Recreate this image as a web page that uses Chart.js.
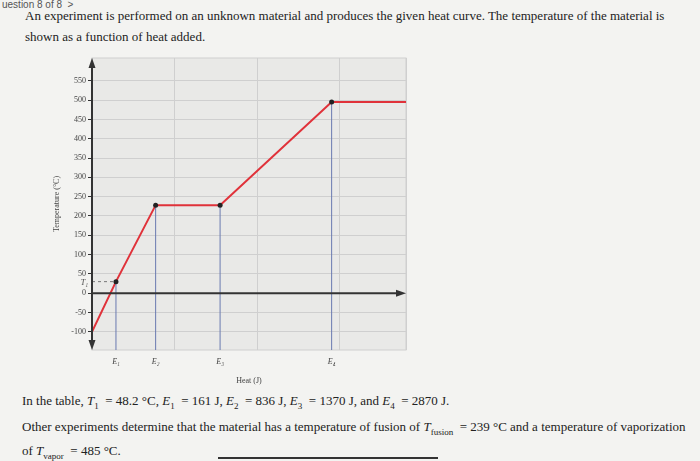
<!DOCTYPE html><html><head><meta charset="utf-8">
<script src="https://cdn.jsdelivr.net/npm/chart.js@4"></script>
<style>
body{margin:0;background:#f3f3f1;width:700px;height:461px;overflow:hidden;font-family:"Liberation Serif",serif;color:#222;position:relative}
.t{position:absolute;font-size:13px;white-space:nowrap}
sub{line-height:0;font-size:9px}
#wrap{position:absolute;left:52px;top:45px;width:368px;height:345px}
</style></head><body>
<div class="t" style="left:2px;top:-1px;font-family:'Liberation Sans';font-size:10px;color:#555">uestion 8 of 8 &nbsp;&gt;</div>
<div class="t" style="left:25px;top:8px">An experiment is performed on an unknown material and produces the given heat curve. The temperature of the material is</div>
<div class="t" style="left:25px;top:29px">shown as a function of heat added.</div>
<div class="t" style="left:22px;top:393px">In the table, <i>T</i><sub>1</sub> &nbsp;= 48.2 °C, <i>E</i><sub>1</sub> &nbsp;= 161 J, <i>E</i><sub>2</sub> &nbsp;= 836 J, <i>E</i><sub>3</sub> &nbsp;= 1370 J, and <i>E</i><sub>4</sub> &nbsp;= 2870 J.</div>
<div class="t" style="left:22px;top:419px">Other experiments determine that the material has a temperature of fusion of <i>T</i><sub>fusion</sub> &nbsp;= 239 °C and a temperature of vaporization</div>
<div class="t" style="left:22px;top:443px">of <i>T</i><sub>vapor</sub> &nbsp;= 485 °C.</div>
<div style="position:absolute;left:218px;top:457px;width:220px;height:2px;background:#333"></div>
<div id="wrap"><canvas id="c"></canvas></div>
<script>
const heatX=[0,0.29,0.77,1.55,2.9,3.8];
const tempY=[-100,30,228,228,495,495];
const markIdx=[1,2,3,4];
const eLabels=['E₁','E₂','E₃','E₄'];
const yTicks=[550,500,450,400,350,300,250,200,150,100,50,0,-50,-100];
const deco={id:'deco',afterDatasetsDraw(ch){
 const c=ch.ctx,x=ch.scales.x,y=ch.scales.y,a=ch.chartArea;
 c.save();
 markIdx.forEach((i,k)=>{const px=x.getPixelForValue(heatX[i]),py=y.getPixelForValue(tempY[i]);
  c.strokeStyle='#6a7ab0';c.lineWidth=1;c.beginPath();c.moveTo(px,py);c.lineTo(px,a.bottom);c.stroke();
  c.fillStyle='#444';c.font='italic 8px "Liberation Serif"';c.textAlign='center';c.fillText(eLabels[k],px,a.bottom+14);});
 const x1=x.getPixelForValue(heatX[1]),y1=y.getPixelForValue(tempY[1]);
 c.setLineDash([3,3]);c.strokeStyle='#777';c.beginPath();c.moveTo(a.left,y1);c.lineTo(x1,y1);c.stroke();c.setLineDash([]);
 c.fillStyle='#444';c.font='italic 8px "Liberation Serif"';c.textAlign='right';c.fillText('T₁',a.left-4,y1+3);
 const y0=y.getPixelForValue(0),x0=x.getPixelForValue(0);
 c.strokeStyle='#333';c.fillStyle='#333';c.lineWidth=2;
 c.beginPath();c.moveTo(a.left,y0);c.lineTo(a.right-6,y0);c.stroke();
 c.beginPath();c.moveTo(a.right,y0);c.lineTo(a.right-10,y0-3.5);c.lineTo(a.right-10,y0+3.5);c.fill();
 c.beginPath();c.moveTo(x0,a.bottom-4);c.lineTo(x0,a.top+6);c.stroke();
 c.beginPath();c.moveTo(x0,a.top);c.lineTo(x0-3.5,a.top+10);c.lineTo(x0+3.5,a.top+10);c.fill();
 c.beginPath();c.moveTo(x0,a.bottom);c.lineTo(x0-3.5,a.bottom-10);c.lineTo(x0+3.5,a.bottom-10);c.fill();
 markIdx.forEach(i=>{c.beginPath();c.arc(x.getPixelForValue(heatX[i]),y.getPixelForValue(tempY[i]),2.5,0,7);c.fillStyle='#222';c.fill();});
 c.restore();}};
new Chart(document.getElementById('c'),{type:'line',
 data:{datasets:[{data:heatX.map((v,i)=>({x:v,y:tempY[i]})),borderColor:'#e0323a',borderWidth:2,pointRadius:0,tension:0}]},
 options:{responsive:true,maintainAspectRatio:false,animation:false,
  layout:{padding:{top:13,right:14}},
  plugins:{legend:{display:false},tooltip:{enabled:false}},
  scales:{
   x:{type:'linear',min:0,max:3.8,afterFit:s=>{s.height=40},
     ticks:{stepSize:1,display:false},grid:{color:'#cfcfcf',drawTicks:false},border:{display:false},
     title:{display:true,text:'Heat (J)',font:{family:'Liberation Serif',size:8},color:'#444',padding:{top:12}}},
   y:{min:-147,max:609,afterFit:s=>{s.width=40},
     afterBuildTicks:s=>{s.ticks=yTicks.map(v=>({value:v}))},
     ticks:{font:{family:'Liberation Serif',size:8},color:'#444',padding:2},
     grid:{color:'#cfcfcf',tickLength:4,tickColor:'#333'},border:{display:false},
     title:{display:true,text:'Temperature (°C)',font:{family:'Liberation Serif',size:8},color:'#444',padding:0}}}},
 plugins:[{id:'bg',beforeDraw(ch){const a=ch.chartArea,c=ch.ctx;c.save();c.fillStyle='#e9e9e7';c.fillRect(a.left,a.top,a.right-a.left,a.bottom-a.top);c.strokeStyle='#cfcfcf';c.strokeRect(a.left,a.top,a.right-a.left,a.bottom-a.top);c.restore();}},deco]});
</script></body></html>
